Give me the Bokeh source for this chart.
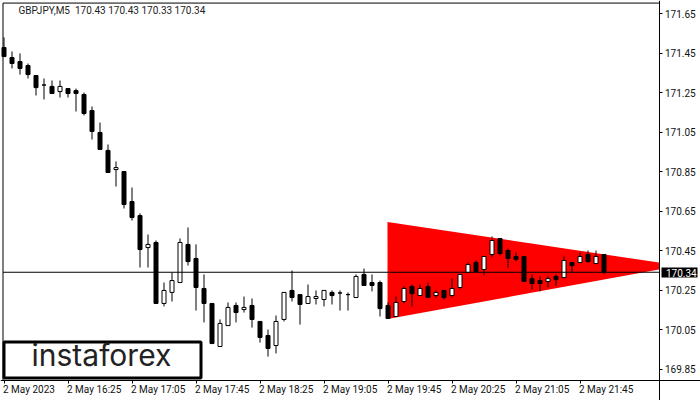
from bokeh.plotting import figure
from bokeh.embed import file_html
from bokeh.resources import INLINE
from bokeh.core.properties import value
from bokeh.models import FixedTicker, Label, LabelSet, BoxAnnotation, LinearAxis, Range1d, ColumnDataSource

SYMBOL_LINE = "GBPJPY,M5\u00a0\u00a0170.43 170.43 170.33 170.34"
LOGO = "instaforex"
LAST_PRICE = 170.34
LAST_LABEL = "170.34"

opens = [171.478,171.427,171.407,171.387,171.336,171.288,171.281,171.255,171.270,171.260,
         171.240,171.159,171.048,170.957,170.860,170.850,170.698,170.627,170.465,170.491,
         170.182,170.238,170.288,170.481,170.410,170.258,170.182,169.964,170.070,170.172,
         170.151,170.172,170.091,170.020,169.969,170.101,170.248,170.227,170.182,170.207,
         170.202,170.238,170.235,170.227,170.212,170.329,170.288,170.288,170.172,170.116,
         170.192,170.268,170.222,170.268,170.222,170.248,170.222,170.263,170.339,170.389,
         170.354,170.430,170.511,170.450,170.420,170.420,170.308,170.298,170.293,170.319,
         170.313,170.389,170.389,170.430,170.384,170.43]
highs = [171.529,171.458,171.448,171.397,171.336,171.321,171.311,171.311,171.270,171.270,
         171.250,171.179,171.098,170.987,170.901,170.850,170.769,170.638,170.531,170.501,
         170.288,170.339,170.511,170.567,170.481,170.329,170.182,170.101,170.187,170.187,
         170.217,170.207,170.091,170.050,170.121,170.238,170.349,170.227,170.278,170.248,
         170.248,170.248,170.248,170.238,170.329,170.359,170.329,170.298,170.187,170.217,
         170.268,170.278,170.278,170.288,170.248,170.248,170.308,170.329,170.389,170.400,
         170.420,170.521,170.511,170.460,170.440,170.420,170.329,170.319,170.319,170.329,
         170.420,170.389,170.440,170.450,170.450,170.43]
lows = [171.432,171.372,171.341,171.321,171.235,171.215,171.245,171.225,171.225,171.154,
        171.134,171.012,170.962,170.845,170.774,170.663,170.602,170.364,170.364,170.182,
        170.167,170.192,170.288,170.374,170.146,170.086,169.979,169.964,170.070,170.086,
        170.136,170.060,169.984,169.913,169.929,170.091,170.192,170.075,170.182,170.177,
        170.167,170.177,170.146,170.146,170.212,170.273,170.243,170.116,170.106,170.116,
        170.182,170.167,170.222,170.212,170.212,170.202,170.212,170.253,170.339,170.344,
        170.324,170.415,170.425,170.364,170.394,170.293,170.253,170.243,170.263,170.273,
        170.313,170.339,170.389,170.389,170.384,170.33]
closes = [171.432,171.397,171.372,171.341,171.275,171.288,171.245,171.281,171.245,171.245,
          171.144,171.053,170.962,170.845,170.870,170.683,170.617,170.455,170.481,170.182,
          170.248,170.298,170.491,170.394,170.263,170.182,169.979,170.081,170.162,170.136,
          170.162,170.101,170.010,169.954,170.091,170.238,170.212,170.177,170.217,170.217,
          170.248,170.222,170.235,170.227,170.319,170.273,170.273,170.156,170.106,170.187,
          170.258,170.232,170.258,170.212,170.238,170.212,170.258,170.329,170.379,170.344,
          170.420,170.501,170.435,170.410,170.405,170.293,170.283,170.283,170.308,170.303,
          170.400,170.374,170.420,170.394,170.420,170.34]

time_ticks = [0, 8, 16, 24, 32, 40, 48, 56, 64, 72]
time_labels = ["2 May 2023", "2 May 16:25", "2 May 17:05", "2 May 17:45", "2 May 18:25",
               "2 May 19:05", "2 May 19:45", "2 May 20:25", "2 May 21:05", "2 May 21:45"]
price_ticks = [171.65, 171.45, 171.25, 171.05, 170.85, 170.65, 170.45, 170.25, 170.05, 169.85]
price_labels = ["171.65", "171.45", "171.25", "171.05", "170.85",
                "170.65", "170.45", "170.25", "170.05", "169.85"]

# pennant drawn as a red polygon, ending at the price axis
tri_x = [47.94, 47.94, 81.875, 81.875]
tri_p = [170.594, 170.103, 170.354, 170.389]

FONT = "Roboto"
FSIZE = "10px"
# chart area edges, in bar index and price
X_LEFT, X_RIGHT = -0.125, 81.875
P_BOTTOM, P_TOP = 169.794, 171.703

n = len(opens)
src = ColumnDataSource(dict(x=list(range(n)), h=highs, l=lows,
                            top=[max(a, b) for a, b in zip(opens, closes)],
                            bot=[min(a, b) for a, b in zip(opens, closes)],
                            fill=["white" if c > o else "black" for o, c in zip(opens, closes)]))

p = figure(width=700, height=400, output_backend="svg", toolbar_location=None,
           x_range=Range1d(-0.4375, 87.0625), y_range=Range1d(169.6907, 171.716),
           x_axis_location=None, y_axis_location=None, min_border=0, margin=0,
           outline_line_color=None, background_fill_color="white")
p.grid.visible = False

p.patch(tri_x, tri_p, fill_color="#ff0000", line_color=None)
p.segment("x", "h", "x", "l", source=src, line_color="black", line_width=1)
p.vbar(x="x", width=0.5, top="top", bottom="bot", source=src,
       fill_color="fill", line_color="black", line_width=1)
p.segment([X_LEFT], [LAST_PRICE], [X_RIGHT], [LAST_PRICE], line_color="black", line_width=1)
# top and left edge of the chart area
p.segment([X_LEFT, X_LEFT], [P_TOP, P_BOTTOM], [X_RIGHT, X_LEFT], [P_TOP, P_TOP],
          line_color="black", line_width=1)

yax = LinearAxis(fixed_location=X_RIGHT, ticker=FixedTicker(ticks=price_ticks),
                 major_label_overrides=dict(zip(price_ticks, price_labels)))
xax = LinearAxis(fixed_location=P_BOTTOM, ticker=FixedTicker(ticks=time_ticks),
                 major_label_overrides={t: "" for t in time_ticks})
for ax in (xax, yax):
    ax.major_tick_in = 0
    ax.major_tick_out = 3
    ax.minor_tick_line_color = None
    ax.axis_line_color = "black"
    ax.major_tick_line_color = "black"
    ax.major_label_standoff = 3
    ax.major_label_text_color = "#111111"
    ax.major_label_text_font = FONT
    ax.major_label_text_font_size = FSIZE
p.add_layout(yax, "right")
p.add_layout(xax, "below")

time_src = ColumnDataSource(dict(x=time_ticks, y=[P_BOTTOM] * len(time_ticks), text=time_labels))
p.add_layout(LabelSet(x="x", y="y", text="text", source=time_src, text_align="left",
                      text_baseline="middle", x_offset=-1, y_offset=-9.5, text_font=value(FONT),
                      text_font_size=value(FSIZE), text_color="#111111"))

p.add_layout(Label(x=18, y=390, x_units="screen", y_units="screen", text=SYMBOL_LINE,
                   text_font=FONT, text_font_size=FSIZE, text_color="#222222",
                   text_baseline="middle"))
p.add_layout(BoxAnnotation(left=3.5, right=200.5, top=58.5, bottom=22.5,
                           left_units="screen", right_units="screen",
                           top_units="screen", bottom_units="screen",
                           fill_color="white", fill_alpha=1, line_color="black",
                           line_alpha=1, line_width=3))
p.add_layout(Label(x=31, y=28, x_units="screen", y_units="screen", text=LOGO,
                   text_font="Inter", text_font_size="30px", text_color="#222222"))
p.add_layout(BoxAnnotation(left=661, right=697, top=133, bottom=123,
                           left_units="screen", right_units="screen",
                           top_units="screen", bottom_units="screen",
                           fill_color="black", fill_alpha=1, line_color=None))
p.add_layout(Label(x=665.5, y=128, x_units="screen", y_units="screen", text=LAST_LABEL,
                   text_font=FONT, text_font_size=FSIZE, text_color="white",
                   text_baseline="middle"))

open("out.html", "w").write(file_html(p, INLINE))
